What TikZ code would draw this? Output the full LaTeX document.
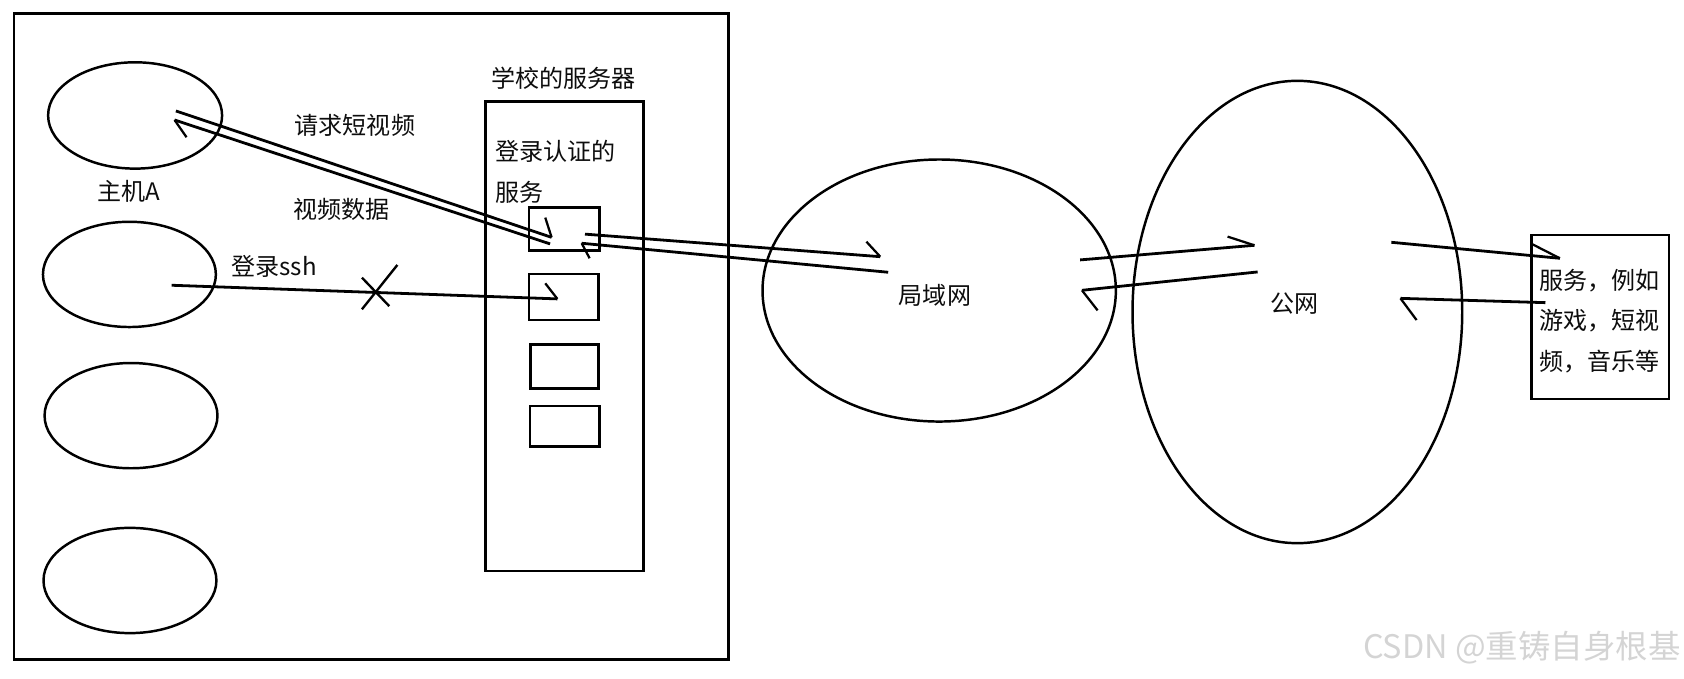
\documentclass[tikz,border=0pt]{standalone}
\usepackage{fontspec}
\setmainfont{Noto Sans CJK SC}
\usetikzlibrary{shapes.geometric}
\tikzset{
  oval/.style={draw=black,line width=2.3pt,ellipse,inner sep=0pt,outer sep=0pt},
  box/.style={draw=black,line width=2.5pt,rectangle,inner sep=0pt,outer sep=0pt},
  lbl/.style={anchor=west,inner sep=0pt,outer sep=0pt,text=black!95,font=\fontsize{22.4}{22.4}\selectfont},
  mark stroke/.style={line width=2.2pt,draw=black},
  wire/.style={line width=2.6pt,draw=black},
  barb/.style={line width=2.1pt,draw=black},
}
\begin{document}
\begin{tikzpicture}[x=1pt,y=-1pt]
\useasboundingbox (0,0) rectangle (1568,632.2);
% frames
\node[box,minimum width=665pt,minimum height=602pt] (campus) at (345.5,313.3) {};
\node[box,minimum width=147pt,minimum height=437.5pt] (server) at (525.5,313) {};
\node[box,minimum width=65.5pt,minimum height=40pt] (auth) at (525.2,213.5) {};
\node[box,minimum width=64.5pt,minimum height=43pt] (sshd) at (524.7,276.5) {};
\node[box,minimum width=63pt,minimum height=41pt] (svcc) at (525.5,341.5) {};
\node[box,minimum width=65pt,minimum height=38pt] (svcd) at (526,397) {};
\node[box,minimum width=128pt,minimum height=152.5pt] (svc) at (1490,295.2) {};
% ellipses
\node[oval,minimum width=162pt,minimum height=99pt] (hostA) at (125.8,107.5) {};
\node[oval,minimum width=161pt,minimum height=98pt] (hostB) at (120.5,255.5) {};
\node[oval,minimum width=161pt,minimum height=98pt] (hostC) at (122,387) {};
\node[oval,minimum width=161pt,minimum height=98pt] (hostD) at (121,540.5) {};
\node[oval,minimum width=329pt,minimum height=244pt] (lan) at (874.5,270.5) {};
\node[oval,minimum width=307pt,minimum height=430.5pt] (wan) at (1208,290.5) {};
% labels
\node[lbl] (t1) at (457.5,73) {学校的服务器};
\node[lbl] (t2) at (461.5,141) {登录认证的};
\node[lbl] (t3) at (461.5,179) {服务};
\node[lbl] (t4) at (274.5,117) {请求短视频};
\node[lbl] (t5) at (273.5,195) {视频数据};
\node[lbl] (t6) at (90.5,178) {主机A};
\node[lbl] (t7) at (215.5,248) {登录ssh};
\node[lbl] (t8) at (837,275) {局域网};
\node[lbl] (t9) at (1183,283) {公网};
\node[lbl] (t10) at (1433,261) {服务，例如};
\node[lbl] (t11) at (1433,299) {游戏，短视};
\node[lbl] (t12) at (1433,337) {频，音乐等};
\node[anchor=east,inner sep=0pt,text=black!17,font=\fontsize{30.2}{30.2}\selectfont] (wm) at (1565,603) {CSDN @重铸自身根基};
% free ends of the hand-drawn connectors
\coordinate (a1s) at (163.8,103.3); \coordinate (a1e) at (513.6,221); \coordinate (a1b) at (507.7,202.6);
\coordinate (a2s) at (512.2,227.1); \coordinate (a2e) at (162.5,111.7); \coordinate (a2b) at (173.7,127.8);
\coordinate (a3s) at (159.8,265.6); \coordinate (a3e) at (519,278.3); \coordinate (a3b) at (507.7,263.8);
\coordinate (a4s) at (544.7,218); \coordinate (a4e) at (819.6,239); \coordinate (a4b) at (806.7,225);
\coordinate (a5s) at (827,253.5); \coordinate (a5e) at (541.6,226.5); \coordinate (a5b) at (549,240.5);
\coordinate (a6s) at (1005.7,242); \coordinate (a6e) at (1168,228.4); \coordinate (a6b) at (1143,220.3);
\coordinate (a7s) at (1171,253.2); \coordinate (a7e) at (1007.4,270.3); \coordinate (a7b) at (1022,289);
\coordinate (a8s) at (1295.5,225.6); \coordinate (a8e) at (1452.4,240.5); \coordinate (a8b) at (1426,227);
\coordinate (a9s) at (1439,281.8); \coordinate (a9e) at (1304,277.8); \coordinate (a9b) at (1319,298);
\coordinate (x1a) at (370,246.7); \coordinate (x1b) at (337,288);
\coordinate (x2a) at (337,258.5); \coordinate (x2b) at (362.4,285);
% connectors
\foreach \k in {a1,a2,a3,a4,a5,a6,a7,a8,a9}{
  \draw[wire] (\k s) -- (\k e);
  \draw[barb] (\k b) -- (\k e);
}
\draw[mark stroke] (x1a) -- (x1b);
\draw[mark stroke] (x2a) -- (x2b);
\end{tikzpicture}
\end{document}
